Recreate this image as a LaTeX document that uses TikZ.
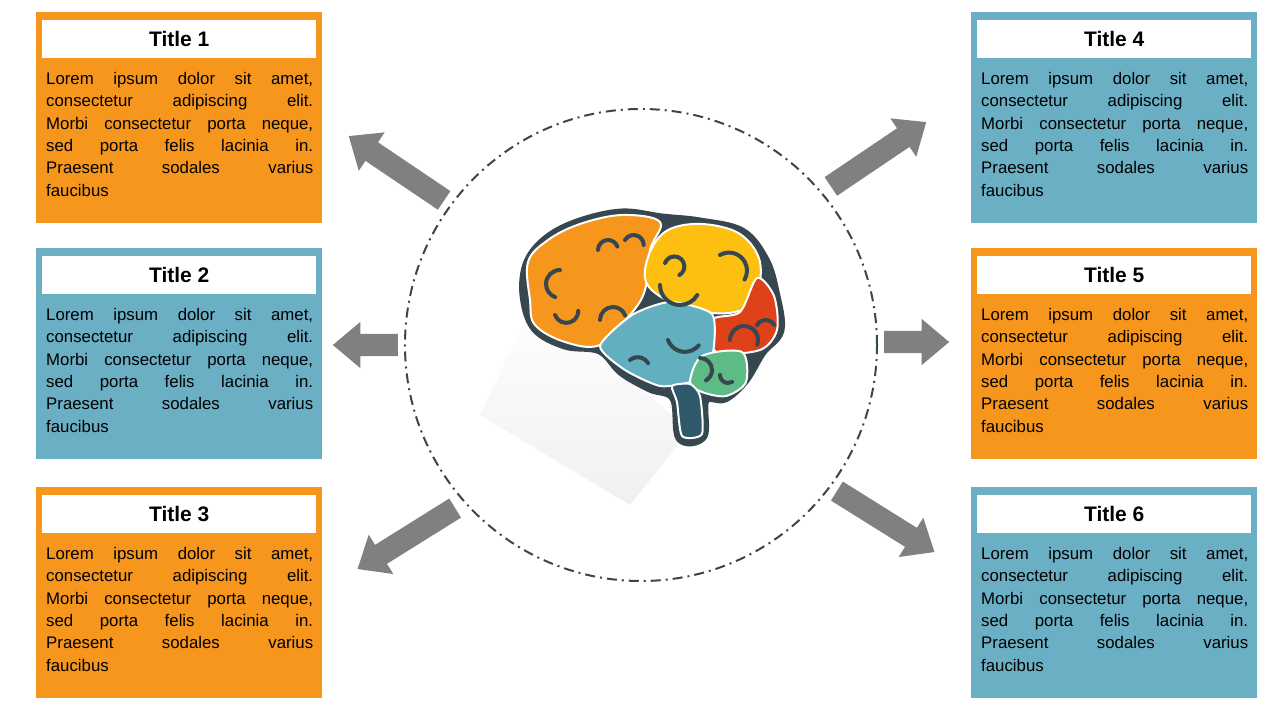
\documentclass[tikz,border=0pt]{standalone}
\usepackage{fontspec}
\setmainfont{Liberation Sans}
\usetikzlibrary{shapes.arrows}
\definecolor{org}{HTML}{F7961D}
\definecolor{blu}{HTML}{6AAFC4}
\definecolor{drk}{HTML}{37474F}
\definecolor{ygl}{HTML}{FDC010}
\definecolor{red1}{HTML}{DF4118}
\definecolor{tea}{HTML}{62AFC0}
\definecolor{grn}{HTML}{5DBB85}
\definecolor{stm}{HTML}{2E5A6B}
\definecolor{arr}{HTML}{808080}
\tikzset{
 box/.style={minimum width=286pt,minimum height=211pt,anchor=north west,inner sep=0pt},
 ttl/.style={fill=white,minimum width=274pt,minimum height=38pt,anchor=north west,inner sep=0pt,font=\fontsize{21}{24}\selectfont\bfseries},
 body/.style={anchor=north west,inner sep=0pt,text width=267pt,align=justify,font=\fontsize{16.8}{22.4}\selectfont},
 bar/.style={single arrow,fill=arr,minimum height=115pt,inner xsep=0pt,inner ysep=11pt,single arrow head extend=12pt,single arrow tip angle=80},
 reg/.style={draw=white,line width=2pt},
 curl/.style={draw=drk,line width=4pt,line cap=round}
}
\newcommand{\lorem}{Lorem ipsum dolor sit amet, consectetur adipiscing elit.\linebreak Morbi consectetur porta neque, sed porta felis lacinia in.\linebreak Praesent sodales varius\linebreak faucibus}
\newcommand{\panel}[4]{%
 \node[box,fill=#4] (b#1) at (#2,#3) {};
 \node[ttl] (t#1) at (#2+6,#3-8) {Title #1};
 \node[body] (x#1) at (#2+10,#3-60) {\lorem};}
\begin{document}
\begin{tikzpicture}[x=1pt,y=1pt]
\useasboundingbox (0,0) rectangle (1280,-720);
\fill[white] (0,0) rectangle (1280,-720);
\panel{1}{36}{-12}{org}
\panel{2}{36}{-248}{blu}
\panel{3}{36}{-487}{org}
\panel{4}{971}{-12}{blu}
\panel{5}{971}{-248}{org}
\panel{6}{971}{-487}{blu}
% circle
\node[draw=drk,line width=2pt,dash pattern=on 10pt off 5pt on 2pt off 5pt,circle,minimum size=472pt] (c) at (641,-345) {};
% arrows
\node[bar,rotate=146] (a1) at (402,-172) {};
\node[bar,rotate=180,minimum height=65pt] (a2) at (372,-345) {};
\node[bar,rotate=212] (a3) at (412,-535) {};
\node[bar,rotate=34] (a4) at (873,-158) {};
\node[bar,rotate=0,minimum height=65pt] (a5) at (910,-342) {};
\node[bar,rotate=-32] (a6) at (880,-518) {};
% shadow
\shade[left color=white,right color=black!8,shading angle=0,opacity=0.7] (535,-300) -- (690,-430) -- (630,-505) -- (480,-415) -- cycle;
% brain outline
\draw[drk,line width=9pt,fill=drk,line join=round] plot[smooth cycle,tension=0.6] coordinates {(528,-262)(548,-238)(580,-222)(622,-213)(662,-218)(700,-222)(742,-232)(765,-260)(775,-292)(780,-330)(762,-352)(745,-380)(725,-398)(705,-400)(703,-436)(680,-438)(674,-398)(650,-388)(622,-372)(600,-350)(565,-345)(535,-328)(524,-295)};
% regions
\fill[org,reg] plot[smooth cycle,tension=0.6] coordinates {(530,-300)(528,-262)(548,-240)(580,-224)(622,-215)(660,-222)(650,-250)(645,-290)(630,-315)(600,-345)(565,-342)(535,-325)};
\fill[ygl,reg] plot[smooth cycle,tension=0.6] coordinates {(650,-252)(668,-230)(702,-224)(740,-234)(760,-262)(755,-300)(735,-312)(705,-312)(670,-302)(646,-282)};
\fill[red1,reg] plot[smooth cycle,tension=0.5] coordinates {(757,-278)(774,-296)(777,-330)(760,-350)(716,-352)(712,-320)(740,-312)};
\fill[tea,reg] plot[smooth cycle,tension=0.4] coordinates {(600,-346)(632,-315)(670,-302)(712,-314)(713,-352)(700,-368)(690,-382)(660,-386)(625,-370)};
\fill[grn,reg] plot[smooth cycle,tension=0.5] coordinates {(702,-356)(742,-352)(746,-382)(726,-396)(702,-392)(690,-382)};
\fill[stm,reg] plot[smooth cycle,tension=0.4] coordinates {(672,-386)(690,-384)(700,-396)(702,-434)(682,-436)(677,-402)};
% curls
\draw[curl] (560,-270) arc[start angle=90,end angle=250,radius=14];
\draw[curl] (598,-250) arc[start angle=180,end angle=20,radius=10];
\draw[curl] (625,-240) arc[start angle=150,end angle=0,radius=10];
\draw[curl] (555,-315) arc[start angle=200,end angle=360,radius=12];
\draw[curl] (600,-320) arc[start angle=180,end angle=20,radius=13];
\draw[curl] (665,-263) arc[start angle=160,end angle=-60,radius=10];
\draw[curl] (660,-285) arc[start angle=180,end angle=330,radius=20];
\draw[curl] (720,-255) arc[start angle=120,end angle=-30,radius=18];
\draw[curl] (630,-360) arc[start angle=130,end angle=30,radius=12];
\draw[curl] (668,-340) arc[start angle=200,end angle=320,radius=18];
\draw[curl] (700,-358) arc[start angle=90,end angle=-60,radius=12];
\draw[curl] (730,-340) arc[start angle=180,end angle=-20,radius=14];
\draw[curl] (757,-325) arc[start angle=150,end angle=30,radius=10];
\draw[curl] (720,-375) arc[start angle=180,end angle=300,radius=8];
\end{tikzpicture}
\end{document}
